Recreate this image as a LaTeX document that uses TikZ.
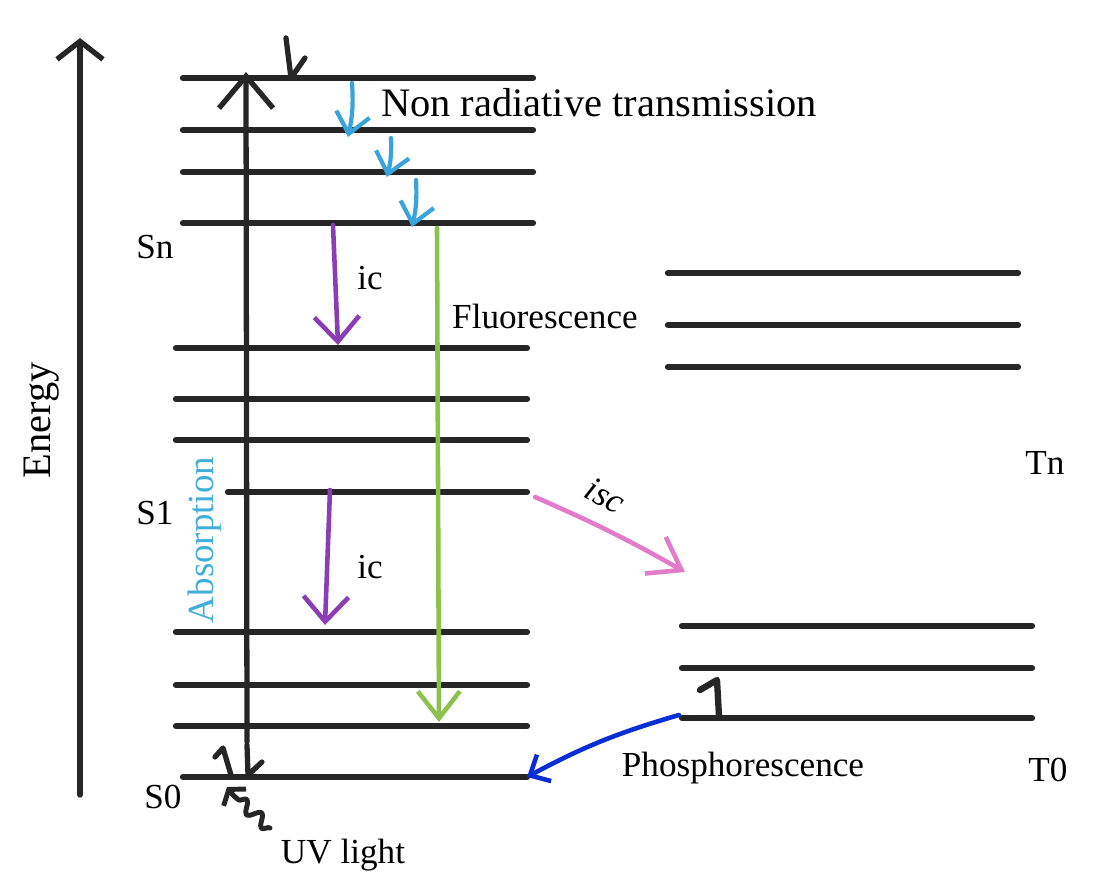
\documentclass[tikz,border=0pt]{standalone}
\usepackage{fontspec}
\setmainfont{Liberation Serif}
\usetikzlibrary{arrows.meta,decorations.pathmorphing}
\definecolor{nrtblue}{HTML}{3BA3DB}
\definecolor{icpurple}{HTML}{8B3DB5}
\definecolor{fluogreen}{HTML}{8CC14E}
\definecolor{iscpink}{HTML}{E37BCB}
\definecolor{phosblue}{HTML}{0A2ED6}
\definecolor{abscyan}{HTML}{42ADD8}
\tikzset{
	level/.style={line width=1.8pt,line cap=round,black!85},
	lbl/.style={font=\fontsize{10}{12}\selectfont,inner sep=1pt},
	biglbl/.style={font=\fontsize{11.5}{13}\selectfont,inner sep=1pt},
	blackarrow/.style={line width=1.5pt,line cap=round,black!85,-{Straight Barb[length=3.2mm,width=5.4mm]}},
	nrtarrow/.style={line width=1.2pt,line cap=round,nrtblue,-{Straight Barb[length=2mm,width=3.4mm]}},
	icarrow/.style={line width=1.3pt,line cap=round,icpurple,-{Straight Barb[length=2.5mm,width=4.5mm]}},
	fluoarrow/.style={line width=1.3pt,line cap=round,fluogreen,-{Straight Barb[length=2.7mm,width=4.2mm]}},
	iscarrow/.style={line width=1.3pt,line cap=round,iscpink,-{Straight Barb[length=3mm,width=4.2mm]}},
	phosarrow/.style={line width=1.3pt,line cap=round,phosblue,-{Straight Barb[length=1.6mm,width=3mm]}},
	handstroke/.style={line width=1.8pt,line cap=round,line join=round,black!85}
}
\begin{document}
\begin{tikzpicture}[x=0.01cm,y=-0.01cm]
	\useasboundingbox (0,0) rectangle (1117,875);
	% singlet levels
	\foreach \y in {78,130,172,223}
		\draw[level] (183,\y) -- (533,\y);
	\foreach \y in {348,399,440,632,685,726}
		\draw[level] (176,\y) -- (527,\y);
	\draw[level] (228,492) -- (527,492);
	\draw[level] (183,777) -- (527,777);
	% triplet levels
	\foreach \y in {273,325,367}
		\draw[level] (668,\y) -- (1018,\y);
	\foreach \y in {626,668,718}
		\draw[level] (682,\y) -- (1032,\y);

	% energy axis
	\coordinate (ebot) at (80,795);
	\coordinate (etop) at (80,38);
	\draw[blackarrow,-{Straight Barb[length=1.8mm,width=4.6mm]}] (ebot) -- (etop);
	\node[biglbl,rotate=90] (energy) at (42,420) {Energy};

	% absorption
	\coordinate (absbot) at (247,742);
	\coordinate (abstop) at (246,72);
	\draw[blackarrow] (absbot) -- (abstop);
	\node[lbl,rotate=90,abscyan,font=\fontsize{10.5}{12}\selectfont] (absorption) at (205,540) {Absorption};

	% stroke at the top
	\coordinate (ta) at (286,38);
	\coordinate (tb) at (291,78);
	\coordinate (tc) at (305,58);
	\draw[handstroke,line width=1.5pt] (ta) -- (tb) -- (tc);

	% non radiative steps
	\coordinate (n1a) at (352,83);
	\coordinate (n1b) at (348,137);
	\coordinate (n2a) at (391,138);
	\coordinate (n2b) at (387,177);
	\coordinate (n3a) at (416,180);
	\coordinate (n3b) at (412,227);
	\draw[nrtarrow] (n1a) to[bend left=8] (n1b);
	\draw[nrtarrow] (n2a) to[bend left=8] (n2b);
	\draw[nrtarrow] (n3a) to[bend left=8] (n3b);
	\node[biglbl] (nrt) at (599,103) {Non radiative transmission};

	% internal conversion
	\coordinate (ic1a) at (333,225);
	\coordinate (ic1b) at (338,345);
	\coordinate (ic2a) at (330,490);
	\coordinate (ic2b) at (325,625);
	\draw[icarrow] (ic1a) -- (ic1b);
	\draw[icarrow] (ic2a) -- (ic2b);
	\node[lbl] (ic1) at (370,278) {ic};
	\node[lbl] (ic2) at (370,567) {ic};

	% fluorescence
	\coordinate (fla) at (437,228);
	\coordinate (flb) at (439,722);
	\draw[fluoarrow] (fla) -- (flb);
	\node[lbl] (fluo) at (545,316) {Fluorescence};

	% intersystem crossing
	\coordinate (isca) at (535,497);
	\coordinate (iscb) at (685,572);
	\draw[iscarrow] (isca) to[bend left=3] (iscb);
	\node[lbl,rotate=-28,font=\itshape\fontsize{10}{12}\selectfont] (isc) at (605,496) {isc};

	% phosphorescence
	\coordinate (pha) at (679,715);
	\coordinate (phb) at (527,777);
	\draw[phosarrow] (pha) to[bend right=6] (phb);
	\node[lbl] (phos) at (743,768) {Phosphorescence};
	\draw[handstroke] (700,690) -- (717,680) -- (719,716);

	% strokes at S0
	\draw[handstroke,line width=1.5pt] (215,757) -- (223,748) -- (231,775);
	\draw[handstroke,line width=1.5pt] (247,745) -- (248,775) -- (262,762);

	% UV light
	\coordinate (uva) at (270,828);
	\coordinate (uvb) at (233,795);
	\coordinate (uvtip) at (227,787);
	\draw[handstroke,line width=1.4pt,decorate,decoration={snake,amplitude=0.6mm,segment length=2mm}] (uva) -- (uvb);
	\draw[blackarrow,line width=1.4pt,-{Straight Barb[length=1mm,width=2.8mm]}] (uvb) -- (uvtip);
	\node[lbl] (uv) at (343,855) {UV light};

	% state labels
	\node[lbl] (sn) at (155,247) {Sn};
	\node[lbl] (s1) at (155,513) {S1};
	\node[lbl] (s0) at (163,797) {S0};
	\node[lbl] (tn) at (1045,463) {Tn};
	\node[lbl] (t0) at (1048,770) {T0};
\end{tikzpicture}
\end{document}
